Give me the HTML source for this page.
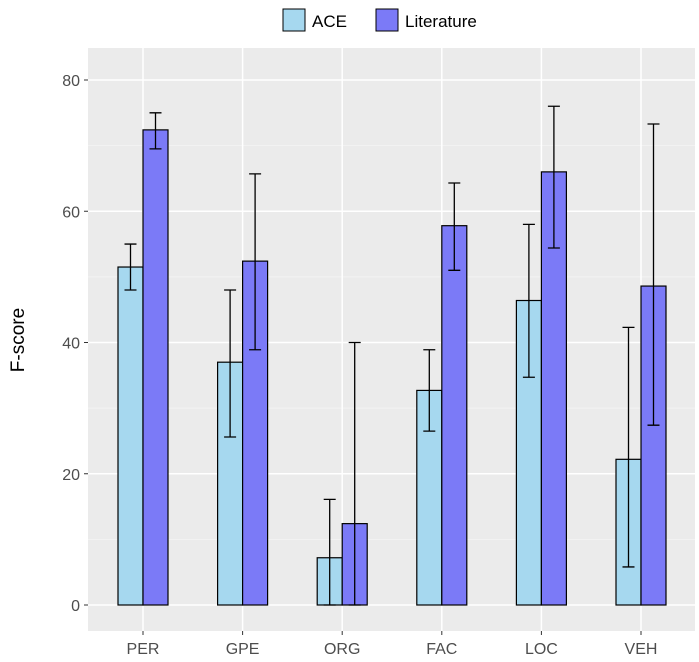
<!DOCTYPE html>
<html><head><meta charset="utf-8"><style>
body{margin:0;background:#fff;font-family:"Liberation Sans",sans-serif}
svg text{font-family:"Liberation Sans",sans-serif}
</style></head><body>
<svg id="chart" width="699" height="657" xmlns="http://www.w3.org/2000/svg">
<g>
<rect x="283" y="9" width="22" height="22" fill="#a6d8ef" stroke="#000" stroke-width="1"/>
<text x="312" y="27" font-size="17" fill="#000">ACE</text>
<rect x="376" y="9" width="22" height="22" fill="#7b7af7" stroke="#000" stroke-width="1"/>
<text x="405" y="27" font-size="17" fill="#000">Literature</text>
</g>
<rect x="88" y="48" width="607" height="583" fill="#ebebeb"/>
<g id="grid"></g>
<g id="bars"></g>
<g id="axes"></g>
<text transform="translate(24,340) rotate(-90)" text-anchor="middle" font-size="19" fill="#000">F-score</text>
</svg>
<script>
const categories=["PER","GPE","ORG","FAC","LOC","VEH"];
const aceValues=[51.5,37,7.2,32.7,46.4,22.2];
const aceLow=[48,25.6,0,26.5,34.7,5.8];
const aceHigh=[55,48,16.1,38.9,58,42.3];
const litValues=[72.4,52.4,12.4,57.8,66,48.6];
const litLow=[69.5,38.9,0,51,54.4,27.4];
const litHigh=[75,65.7,40,64.3,76,73.3];
const yTicks=[0,20,40,60,80];
const ns="http://www.w3.org/2000/svg";
const y=v=>605-v*6.5625;
const x=i=>143+i*99.6;
function mk(tag,attrs,parent){const e=document.createElementNS(ns,tag);for(const k in attrs)e.setAttribute(k,attrs[k]);parent.appendChild(e);return e;}
const grid=document.getElementById('grid'),bars=document.getElementById('bars'),axes=document.getElementById('axes');
for(let v=10;v<=90;v+=20){if(y(v)<48)continue;const l=mk('line',{x1:88,x2:695,y1:y(v),y2:y(v),stroke:'#f5f5f5','stroke-width':0.8},grid);

}
yTicks.forEach(v=>{const l=mk('line',{x1:88,x2:695,y1:y(v),y2:y(v),stroke:'#fff','stroke-width':1.5},grid);


const t=mk('line',{x1:84,x2:88,y1:y(v),y2:y(v),stroke:'#333','stroke-width':1},axes);


const tx=mk('text',{x:80,y:y(v)+6,'text-anchor':'end','font-size':16,fill:'#4d4d4d'},axes);tx.textContent=v;

});
categories.forEach((c,i)=>{const cx=x(i);
const g=mk('line',{x1:cx,x2:cx,y1:48,y2:631,stroke:'#fff','stroke-width':1.5},grid);


const t=mk('line',{x1:cx,x2:cx,y1:631,y2:635,stroke:'#333','stroke-width':1},axes);


const tx=mk('text',{x:cx,y:654,'text-anchor':'middle','font-size':16,fill:'#4d4d4d'},axes);tx.textContent=c;


[[aceValues,aceLow,aceHigh,'#a6d8ef',-25,'ace'],[litValues,litLow,litHigh,'#7b7af7',0,'literature']].forEach(s=>{
const bx=cx+s[4];
const r=mk('rect',{x:bx,y:y(s[0][i]),width:25,height:y(0)-y(s[0][i]),fill:s[3],stroke:'#000','stroke-width':1.2},bars);


const m=bx+12.5,lo=y(s[1][i]),hi=y(s[2][i]);
const e=mk('path',{d:`M${m-6},${hi}H${m+6}M${m},${hi}V${lo}M${m-6},${lo}H${m+6}`,stroke:'#000','stroke-width':1.3,fill:'none'},bars);

});});
</script>
</body></html>
